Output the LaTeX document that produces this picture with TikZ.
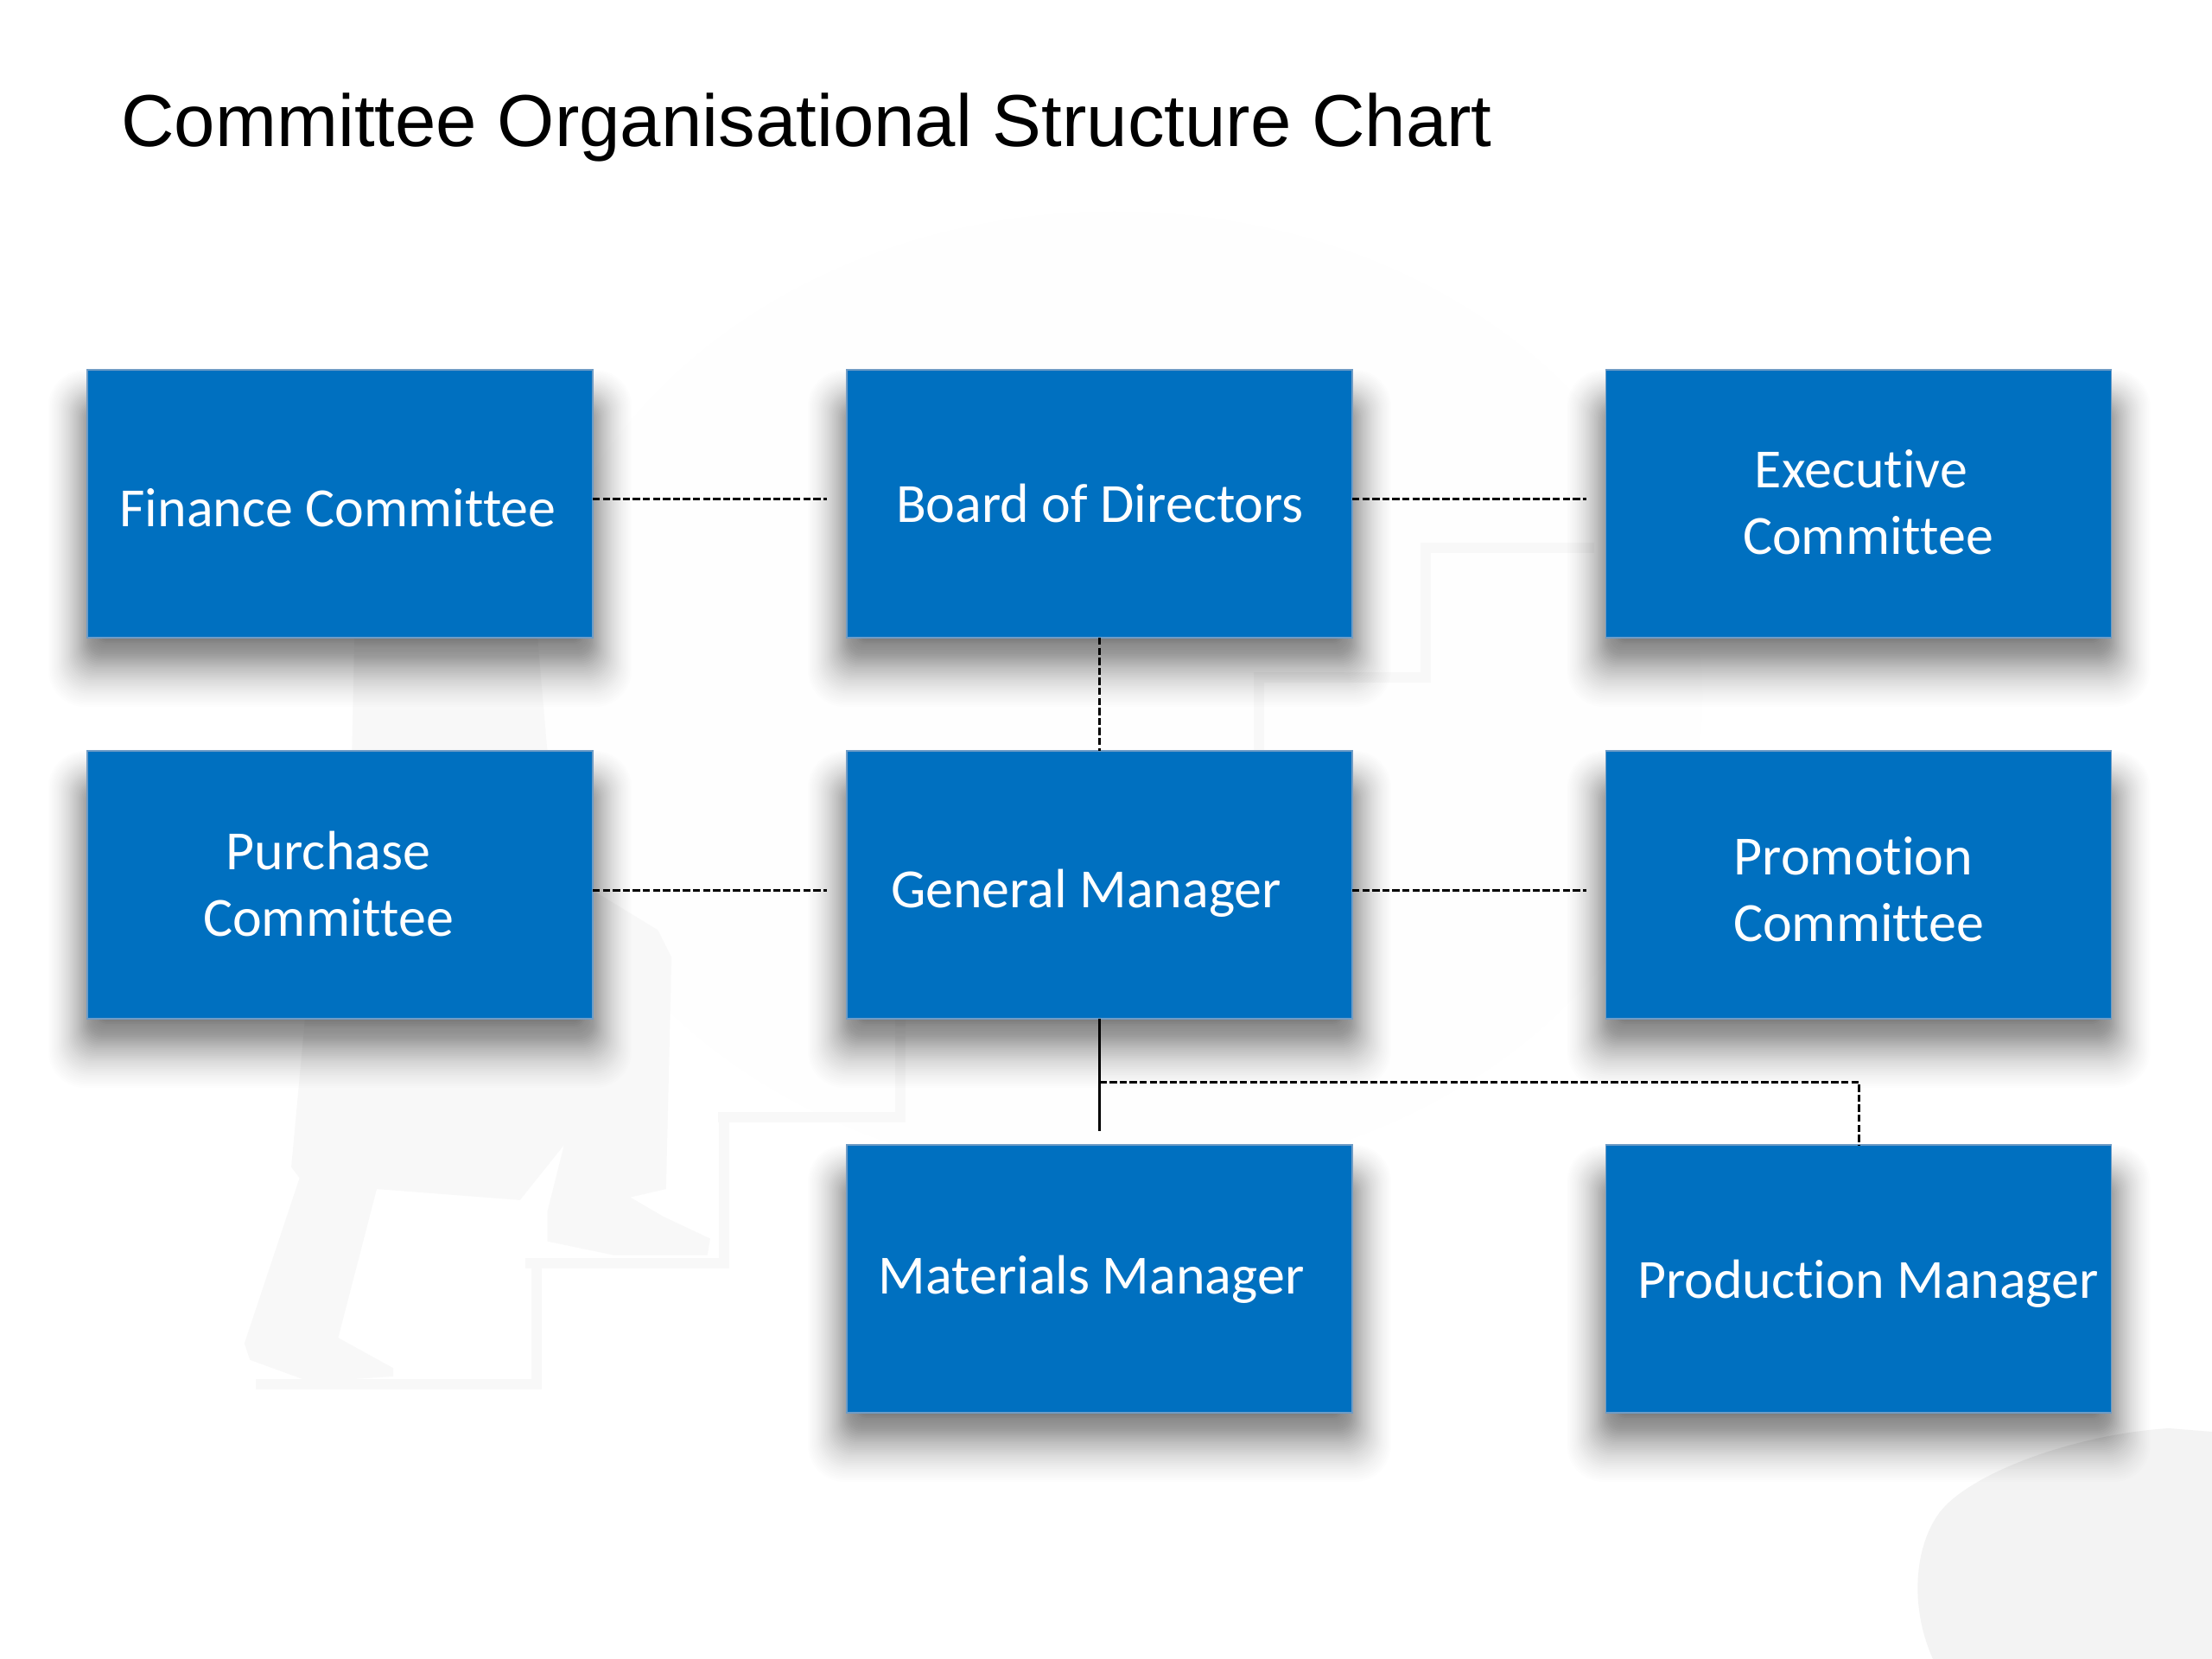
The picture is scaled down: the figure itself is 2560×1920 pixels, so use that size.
\documentclass[tikz,border=0pt]{standalone}
\usepackage{fontspec}
\setmainfont{Liberation Sans}
\newfontfamily\boxfont[Ligatures=NoCommon]{Carlito}
\usetikzlibrary{calc}
\definecolor{boxblue}{HTML}{0070C0}
\definecolor{boxedge}{HTML}{6F9CC6}
\definecolor{ghost}{HTML}{F8F8F8}
\definecolor{ghostb}{HTML}{F3F3F3}
\definecolor{ghostc}{HTML}{FEFEFE}
\pgfdeclarelayer{bglayer}
\pgfdeclarelayer{shadlayer}
\pgfsetlayers{bglayer,shadlayer,main}
\tikzset{
  orgbox/.style={rectangle,fill=boxblue,draw=boxedge,line width=0.6pt,minimum width=292.5pt,minimum height=155pt,inner sep=0pt,outer sep=0pt},
  orglabel/.style={text=white,font=\boxfont\fontsize{32}{38.4}\selectfont,align=center,anchor=base,inner sep=0pt},
  titletext/.style={font=\fontsize{42.6}{50}\selectfont,text=black,anchor=base west,inner sep=0pt},
  dashline/.style={draw=black,line width=1.5pt,dash pattern=on 4.2pt off 1.6pt},
  solidline/.style={draw=black,line width=1.6pt},
  stair/.style={draw=ghost,line width=6pt,line join=miter}
}
\newcommand{\softshadow}[1]{%
  \foreach \k in {0,...,39}{%
    \pgfmathsetmacro{\tt}{\k/39}%
    \pgfmathsetmacro{\sidein}{10-32.5*\tt}%
    \pgfmathsetmacro{\bot}{2.5-42.5*\tt}%
    \pgfmathsetmacro{\topin}{30-30*\tt}%
    \pgfmathsetmacro{\rad}{3+18*\tt}%
    \pgfmathsetmacro{\opa}{0.022*(1-\tt)+0.006}%
    \fill[black,fill opacity=\opa,rounded corners=\rad pt]
      ([xshift=\sidein pt,yshift=-\topin pt]#1.north west) rectangle ([xshift=-\sidein pt,yshift=\bot pt]#1.south east);
  }%
}
\begin{document}
\begin{tikzpicture}[x=0.5pt,y=-0.5pt]
\useasboundingbox (0,0) rectangle (2560,1920);
% boxes
\node[orgbox] (fin)  at (393.5,583) {};
\node[orgbox] (bod)  at (1272.5,583) {};
\node[orgbox] (exec) at (2151,583) {};
\node[orgbox] (pur)  at (393.5,1024) {};
\node[orgbox] (gm)   at (1272.5,1024) {};
\node[orgbox] (prom) at (2151,1024) {};
\node[orgbox] (mat)  at (1272.5,1480) {};
\node[orgbox] (prod) at (2151,1480) {};
% labels
\node[orglabel] (finL)  at (391,609) {Finance Committee};
\node[orglabel] (bodL)  at (1273,604) {Board of Directors};
\node[orglabel] (execL) at (2162,641) {Executive\hspace*{8pt}\\Committee};
\node[orglabel] (purL)  at (380,1083) {Purchase\\Committee};
\node[orglabel] (gmL)   at (1257,1050) {General Manager};
\node[orglabel] (promL) at (2151,1089) {Promotion\hspace*{6pt}\\Committee};
\node[orglabel] (matL)  at (1263,1497) {Materials Manager};
\node[orglabel] (prodL) at (2162,1502) {Production Manager};
\node[titletext] (title) at (140,170) {Committee Organisational Structure Chart};
% connectors
\coordinate (branch) at (1272.5,1252);
\draw[dashline,shorten >=11.5pt] ([yshift=3pt]fin.east) -- ([yshift=3pt]bod.west);
\draw[dashline,shorten >=11.5pt] ([yshift=3pt]bod.east) -- ([yshift=3pt]exec.west);
\draw[dashline,shorten >=11.5pt] ([yshift=-3pt]pur.east) -- ([yshift=-3pt]gm.west);
\draw[dashline,shorten >=11.5pt] ([yshift=-3pt]gm.east) -- ([yshift=-3pt]prom.west);
\draw[dashline] (bod.south) -- (gm.north);
\draw[solidline,shorten >=8pt] (gm.south) -- (mat.north);
\draw[dashline] (branch) -| (prod.north);
% shadows
\begin{pgfonlayer}{shadlayer}
\softshadow{fin}\softshadow{bod}\softshadow{exec}\softshadow{pur}
\softshadow{gm}\softshadow{prom}\softshadow{mat}\softshadow{prod}
\end{pgfonlayer}
% faint background art
\begin{pgfonlayer}{bglayer}
\fill[white] (0,0) rectangle (2560,1920);
\fill[ghostc] (1290,805) ellipse [x radius=680,y radius=560];
\draw[stair] (296,1602) -- (621,1602) -- (621,1462);
\draw[stair] (608,1462) -- (838,1462) -- (838,1293);
\draw[stair] (831,1293) -- (1042,1293) -- (1042,1178);
\draw[stair] (1457,869) -- (1457,784) -- (1650,784) -- (1650,634) -- (1845,634);
\begin{scope}[shift={(200,700)},scale=0.6378]
\fill[ghost] (240,750) -- (215,1020) -- (230,1040) -- (130,1340) -- (140,1370) -- (250,1410)
  -- (400,1400) -- (400,1385) -- (300,1330) -- (370,1060) -- (630,1080) -- (710,980)
  -- (680,1100) -- (680,1155) -- (800,1180) -- (970,1180) -- (975,1150) -- (890,1110)
  -- (830,1075) -- (895,1060) -- (905,640) -- (880,590) -- (765,520) -- (765,750) -- cycle;
\fill[ghost] (330,40) -- (325,270) -- (680,270) -- (660,40) -- cycle;
\end{scope}
\fill[ghostb] (2237,1920) .. controls (2210,1860) and (2215,1790) .. (2245,1750)
  .. controls (2280,1705) and (2400,1660) .. (2510,1653) -- (2560,1657) -- (2560,1920) -- cycle;
\end{pgfonlayer}
\end{tikzpicture}
\end{document}
